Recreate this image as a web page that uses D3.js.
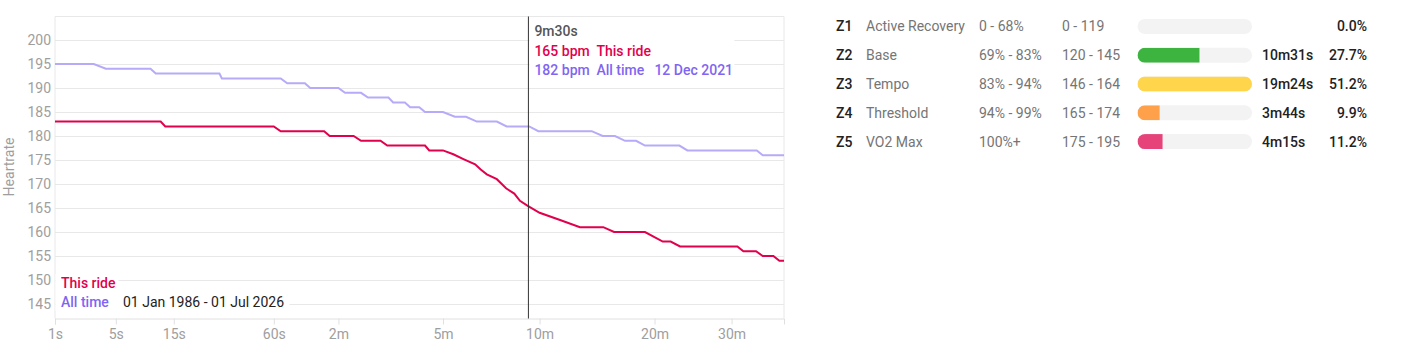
<!DOCTYPE html>
<html>
<head>
<meta charset="utf-8">
<script src="https://cdn.jsdelivr.net/npm/d3@7"></script>
<style>
  body { margin: 0; background: #ffffff; font-family: Roboto, "Noto Sans", sans-serif; }
  .grid line { stroke: #e8e8e8; }
  .grid path { stroke: none; }
  .grid text, .xaxis text { fill: #9e9e9e; font-size: 14px; font-family: Roboto, sans-serif; }
  .xaxis path, .xaxis line { stroke: #e0e0e0; }
</style>
</head>
<body>
<div id="chart"></div>
<script>
// best heartrate per duration (seconds), this ride and all time
const rideTimes = [1, 12, 13, 60, 65, 104, 110, 139, 149, 178, 189, 260, 269, 300, 325, 351, 383, 399, 417, 448,
    478, 506, 526, 553, 600, 685, 776, 894, 953, 1138, 1256, 1311, 1379, 1853, 1909, 2031, 2098, 2207, 2271, 2321];
const rideBpm = [183, 183, 182, 182, 181, 181, 180, 180, 179, 179, 178, 178, 177, 177, 176.2, 175.2, 174.1, 173, 172, 171,
    169.1, 168, 166.5, 165.5, 164, 162.5, 161, 161, 160, 160, 158, 158, 157, 157, 156, 156, 155, 155, 154, 154];

const allTimeTimes = [1, 3, 4, 10, 11, 30, 31, 65, 70, 85, 90, 120, 128, 149, 159, 191, 199, 220, 230, 248,
    260, 300, 329, 358, 388, 448, 480, 560, 595, 834, 891, 958, 1016, 1082, 1138, 1374, 1434, 2038, 2098, 2321];
const allTimeBpm = [195, 195, 194, 194, 193, 193, 192, 192, 191, 191, 190, 190, 189, 189, 188, 188, 187, 187, 186, 186,
    185, 185, 184, 184, 183, 183, 182, 182, 181, 181, 180, 180, 179, 179, 178, 178, 177, 177, 176, 176];

const xTicks = [1, 5, 15, 60, 120, 300, 600, 1200, 1800];
const xTickLabels = ["1s", "5s", "15s", "60s", "2m", "5m", "10m", "20m", "30m"];
const yTicks = [145, 150, 155, 160, 165, 170, 175, 180, 185, 190, 195, 200];

// hover position and tooltip content
const cursorTime = 557;
const tooltipTitle = "9m30s";
const tooltipRide = ["165 bpm", "This ride"];
const tooltipAllTime = ["182 bpm", "All time", "12 Dec 2021"];
const legendRange = "01 Jan 1986 - 01 Jul 2026";

// zones table
const zoneIds = ["Z1", "Z2", "Z3", "Z4", "Z5"];
const zoneNames = ["Active Recovery", "Base", "Tempo", "Threshold", "VO2 Max"];
const zonePct = ["0 - 68%", "69% - 83%", "83% - 94%", "94% - 99%", "100%+"];
const zoneBpm = ["0 - 119", "120 - 145", "146 - 164", "165 - 174", "175 - 195"];
const zoneTimes = ["", "10m31s", "19m24s", "3m44s", "4m15s"];
const zoneShare = [0.0, 27.7, 51.2, 9.9, 11.2];
const zoneColors = ["#bdbdbd", "#3db43f", "#ffd54c", "#ffa04b", "#e5437a"];

const rideColor = "#e1004e";
const allTimeLine = "#b6abf8";
const allTimeText = "#7f65f2";

const svg = d3.select("#chart").append("svg")
    .attr("width", 1424)
    .attr("height", 353);

const plot = {left: 55, right: 784, top: 16.5, bottom: 318.5};

const x = d3.scalePow().exponent(0.25)
    .domain([1, 2321])
    .range([plot.left, plot.right]);

const y = d3.scaleLinear()
    .domain([142, 205])
    .range([318.4, 16]);

// grid + y labels
svg.append("g")
    .attr("class", "grid")
    .attr("transform", `translate(${plot.left},0)`)
    .call(d3.axisLeft(y).tickValues(yTicks).tickSize(-(plot.right - plot.left)).tickPadding(4));

// frame
svg.append("path")
    .attr("d", `M${plot.left},${plot.bottom}V${plot.top}H${plot.right}V${plot.bottom}`)
    .attr("fill", "none")
    .attr("stroke", "#e8e8e8");

// x axis
svg.append("g")
    .attr("class", "xaxis")
    .attr("transform", `translate(0,${plot.bottom})`)
    .call(d3.axisBottom(x).tickValues(xTicks).tickFormat((d, i) => xTickLabels[i]).tickSize(6).tickPadding(5));

svg.append("text")
    .attr("transform", `translate(14,167) rotate(-90)`)
    .attr("text-anchor", "middle")
    .attr("fill", "#9e9e9e")
    .style("font-size", "14px")
    .text("Heartrate");

const line = d3.line()
    .x(d => x(d[0]))
    .y(d => y(d[1]));

svg.append("path")
    .datum(d3.zip(allTimeTimes, allTimeBpm))
    .attr("d", line)
    .attr("fill", "none")
    .attr("stroke", allTimeLine)
    .attr("stroke-width", 2);

svg.append("path")
    .datum(d3.zip(rideTimes, rideBpm))
    .attr("d", line)
    .attr("fill", "none")
    .attr("stroke", rideColor)
    .attr("stroke-width", 2);

// legend, bottom left
let legend = svg.append("g").style("font-size", "14px");
legend.append("rect").attr("x", plot.left + 0.5).attr("y", 274).attr("width", 63).attr("height", 19).attr("fill", "#fff");
legend.append("rect").attr("x", plot.left + 0.5).attr("y", 293).attr("width", 234).attr("height", 18).attr("fill", "#fff");
legend.append("text").attr("x", 61).attr("y", 288).attr("fill", rideColor).style("font-weight", 500).text("This ride");
legend.append("text").attr("x", 61).attr("y", 307).attr("fill", allTimeText).style("font-weight", 500).text("All time");
legend.append("text").attr("x", 123).attr("y", 307).attr("fill", "#222").text(legendRange);

// cursor + tooltip
let cx = x(cursorTime);
svg.append("rect").attr("x", cx + 1).attr("y", plot.top + 0.5).attr("width", 205).attr("height", 65).attr("fill", "#fff");
svg.append("line")
    .attr("x1", cx).attr("x2", cx)
    .attr("y1", plot.top).attr("y2", plot.bottom)
    .attr("stroke", "#333")
    .attr("stroke-width", 1);

let tip = svg.append("g").style("font-size", "14px").style("font-weight", 500);
tip.append("text").attr("x", cx + 6).attr("y", 36).attr("fill", "#555").text(tooltipTitle);
tip.append("text").attr("x", cx + 6).attr("y", 56).attr("fill", rideColor).text(tooltipRide[0]);
tip.append("text").attr("x", cx + 68).attr("y", 56).attr("fill", rideColor).text(tooltipRide[1]);
tip.append("text").attr("x", cx + 6).attr("y", 75).attr("fill", allTimeText).text(tooltipAllTime[0]);
tip.append("text").attr("x", cx + 68).attr("y", 75).attr("fill", allTimeText).text(tooltipAllTime[1]);
tip.append("text").attr("x", cx + 126).attr("y", 75).attr("fill", allTimeText).text(tooltipAllTime[2]);

// zones table
const rowY = d3.scaleBand().domain(zoneIds).range([12, 156]);
const barW = d3.scaleLinear().domain([0, d3.max(zoneShare)]).range([0, 114.5]);

let rows = svg.selectAll(".zone").data(zoneIds).enter().append("g")
    .attr("class", "zone")
    .attr("transform", d => `translate(0,${rowY(d) + rowY.bandwidth() / 2})`)
    .style("font-size", "14px");

rows.append("text").attr("x", 836).attr("y", 5).attr("fill", "#222").style("font-weight", 500).text(d => d);
rows.append("text").attr("x", 866).attr("y", 5).attr("fill", "#757575").text((d, i) => zoneNames[i]);
rows.append("text").attr("x", 979).attr("y", 5).attr("fill", "#757575").text((d, i) => zonePct[i]);
rows.append("text").attr("x", 1062).attr("y", 5).attr("fill", "#757575").text((d, i) => zoneBpm[i]);

rows.append("clipPath").attr("id", (d, i) => "clip" + i)
    .append("rect").attr("x", 1137.5).attr("y", -7.5).attr("width", 114.5).attr("height", 15).attr("rx", 7.5);
rows.append("rect").attr("x", 1137.5).attr("y", -7.5).attr("width", 114.5).attr("height", 15).attr("rx", 7.5)
    .attr("fill", "#f3f3f3");
rows.append("rect").attr("x", 1137.5).attr("y", -7.5).attr("height", 15)
    .attr("width", (d, i) => barW(zoneShare[i]))
    .attr("fill", (d, i) => zoneColors[i])
    .attr("clip-path", (d, i) => `url(#clip${i})`);

rows.append("text").attr("x", 1262).attr("y", 5).attr("fill", "#222").style("font-weight", 500).text((d, i) => zoneTimes[i]);
rows.append("text").attr("x", 1367).attr("y", 5).attr("text-anchor", "end").attr("fill", "#222").style("font-weight", 500)
    .text((d, i) => zoneShare[i].toFixed(1) + "%");
</script>
</body>
</html>
